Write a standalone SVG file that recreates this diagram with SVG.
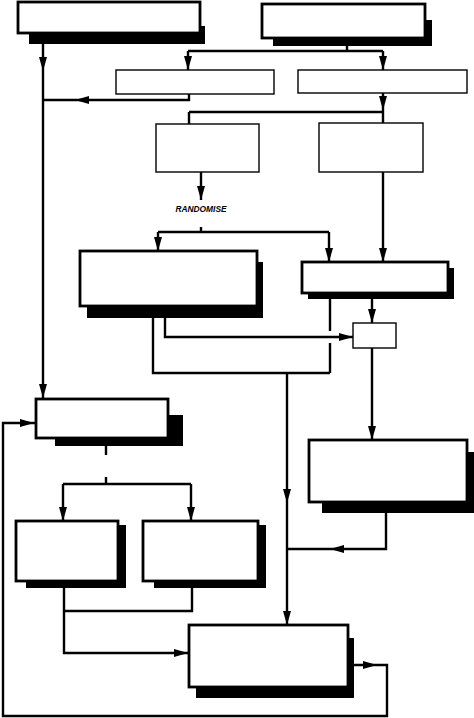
<svg xmlns="http://www.w3.org/2000/svg" width="474" height="718" viewBox="0 0 474 718">
<style>
.bx{fill:#fff;stroke:#000;stroke-width:2.8}
.tn{fill:#fff;stroke:#000;stroke-width:1.4}
.sh{fill:#000}
.ln{fill:none;stroke:#000;stroke-width:2.4}
.lbl{font-family:"Liberation Sans",Arial,sans-serif;font-weight:bold;font-style:italic;font-size:8.4px;fill:#000}
</style>
<defs>
<path id="ah" d="M0,0 L-4,-14 L4,-14 Z" fill="#000"/>
</defs>
<rect width="474" height="718" fill="#fff"/>
<g id="connectors">
<path class="ln" d="M347,46 V51 M188,51 H383 M188,51 V70 M383,51 V70"/>
<path class="ln" d="M43,44 V398"/>
<path class="ln" d="M189,94 V100 H43"/>
<path class="ln" d="M383,93 V124 M189,112 H383 M189,112 V124"/>
<path class="ln" d="M201,172 V200 M201,227 V232 M158,232 H329 M158,232 V251 M329,232 V262"/>
<path class="ln" d="M383,172 V262"/>
<path class="ln" d="M165,318 V337 H353"/>
<path class="ln" d="M153,318 V373 H330 M330,299 V331 M330,343 V373"/>
<path class="ln" d="M287,373 V625"/>
<path class="ln" d="M372,299 V323 M372,348 V440"/>
<path class="ln" d="M386,513 V549 H287"/>
<path class="ln" d="M106,446 V455 M106,477 V484 M63,484 H191 M63,484 V521 M191,484 V521"/>
<path class="ln" d="M64,588 V653 H189 M192,588 V611 H64"/>
<path class="ln" d="M354,665 H387 V716 H3 V423 H36"/>
<use href="#ah" transform="translate(188,70)"/>
<use href="#ah" transform="translate(383,70)"/>
<use href="#ah" transform="translate(43,71)"/>
<use href="#ah" transform="translate(43,398)"/>
<use href="#ah" transform="translate(75,100) rotate(90)"/>
<use href="#ah" transform="translate(383,110)"/>
<use href="#ah" transform="translate(201,200)"/>
<use href="#ah" transform="translate(158,251)"/>
<use href="#ah" transform="translate(329,262)"/>
<use href="#ah" transform="translate(383,262)"/>
<use href="#ah" transform="translate(353,337) rotate(-90)"/>
<use href="#ah" transform="translate(372,323)"/>
<use href="#ah" transform="translate(372,440)"/>
<use href="#ah" transform="translate(287,503)"/>
<use href="#ah" transform="translate(287,625)"/>
<use href="#ah" transform="translate(330,549) rotate(90)"/>
<use href="#ah" transform="translate(63,521)"/>
<use href="#ah" transform="translate(191,521)"/>
<use href="#ah" transform="translate(188,653) rotate(-90)"/>
<use href="#ah" transform="translate(377,665) rotate(-90)"/>
<use href="#ah" transform="translate(34,423) rotate(-90)"/>
</g>
<text class="lbl" x="201" y="212" text-anchor="middle">RANDOMISE</text>
<g id="nodeA"><rect class="sh" x="29" y="26" width="176" height="18"/><rect class="bx" x="18" y="2" width="182" height="31"/></g>
<g id="nodeB"><rect class="sh" x="273" y="20" width="159" height="26"/><rect class="bx" x="262" y="4" width="163" height="34"/></g>
<g id="nodeC"><rect class="tn" x="116" y="70" width="158" height="24"/></g>
<g id="nodeD"><rect class="tn" x="298" y="70" width="169" height="23"/></g>
<g id="nodeE"><rect class="tn" x="156" y="124" width="103" height="48"/></g>
<g id="nodeF"><rect class="tn" x="319" y="123" width="104" height="49"/></g>
<g id="nodeG"><rect class="sh" x="87" y="262" width="176" height="56"/><rect class="bx" x="80" y="251" width="177" height="55"/></g>
<g id="nodeH"><rect class="sh" x="308" y="268" width="146" height="31"/><rect class="bx" x="302" y="262" width="146" height="31"/></g>
<g id="nodeI"><rect class="tn" x="353" y="323" width="43" height="25"/></g>
<g id="nodeK"><rect class="sh" x="322" y="452" width="152" height="61"/><rect class="bx" x="309" y="440" width="158" height="62"/></g>
<g id="nodeL"><rect class="sh" x="55" y="415" width="128" height="31"/><rect class="bx" x="36" y="399" width="132" height="39"/></g>
<g id="nodeM"><rect class="sh" x="26" y="525" width="100" height="63"/><rect class="bx" x="16" y="521" width="102" height="60"/></g>
<g id="nodeN"><rect class="sh" x="154" y="525" width="112" height="63"/><rect class="bx" x="143" y="521" width="115" height="60"/></g>
<g id="nodeJ"><rect class="sh" x="196" y="638" width="158" height="60"/><rect class="bx" x="189" y="625" width="159" height="62"/></g>
</svg>
